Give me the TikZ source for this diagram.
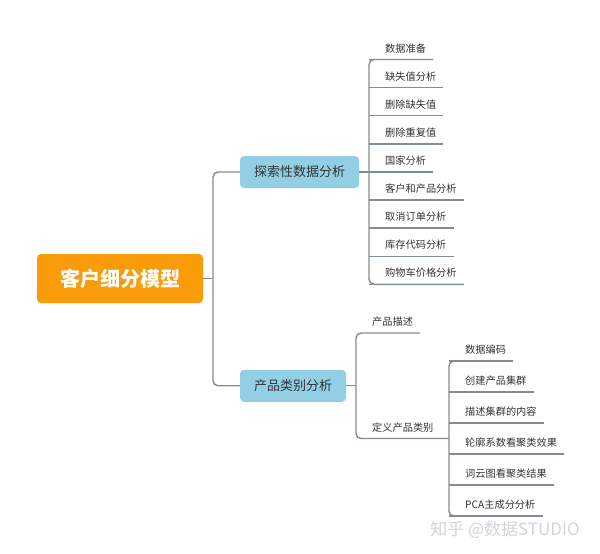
\documentclass[tikz,border=0pt]{standalone}
\usepackage{fontspec}
\setmainfont{Noto Sans CJK SC}
\usetikzlibrary{calc}
\definecolor{rootc}{RGB}{250,155,10}
\definecolor{boxc}{RGB}{146,206,228}
\definecolor{linec}{RGB}{130,139,152}
\definecolor{txtc}{RGB}{51,51,51}
\definecolor{wmc}{RGB}{212,212,212}
\tikzset{
  rootbox/.style={fill=rootc, rounded corners=4pt, text=white, font=\fontsize{20}{24}\selectfont\bfseries, minimum width=166pt, minimum height=49pt, inner sep=0pt},
  subbox/.style={fill=boxc, rounded corners=4pt, text=txtc, font=\fontsize{13}{16}\selectfont, minimum height=32pt, inner sep=0pt},
  leaf/.style={anchor=base west, inner sep=0pt, text=txtc, font=\fontsize{10.2}{12}\selectfont},
  conn/.style={draw=linec, line width=1.4pt, rounded corners=5pt},
  wmark/.style={text=wmc, font=\fontsize{17}{20}\selectfont, inner sep=0pt},
}
\begin{document}
\begin{tikzpicture}[x=1pt,y=-1pt]
\useasboundingbox (0,0) rectangle (600,554);
% root and first-level topics
\node[rootbox] (r) at (120,278.5) {客户细分模型};
\node[subbox, minimum width=119pt] (n1) at (299.5,172) {探索性数据分析};
\node[subbox, minimum width=106pt] (n2) at (293,385.75) {产品类别分析};
\coordinate (t0) at (213,278.5);
\draw[conn] (r.east) -- (t0);
\draw[conn] (t0) |- (n1.west);
\draw[conn] (t0) |- (n2.west);
% group 1
\coordinate (t1) at (369,172);
\draw[conn] (n1.east) -- (t1);
\foreach \t [count=\i from 0] in {数据准备,缺失值分析,删除缺失值,删除重复值,国家分析,客户和产品分析,取消订单分析,库存代码分析,购物车价格分析} {
  \node[leaf] (a\i) at (385,{52+28.1*\i}) {\t};
  \coordinate (u\i) at ($(a\i.base east)+(7,7.5)$);
  \draw[conn] (u\i -| t1) -- (u\i);
}
\draw[conn] (u0) -| (t1) |- (u8);
% group 2
\coordinate (t2) at (356,385.75);
\coordinate (t3) at (449,438.5);
\draw[conn] (n2.east) -- (t2);
\node[leaf] (p0) at (372,325.5) {产品描述};
\node[leaf] (p1) at (372,431) {定义产品类别};
\coordinate (pu0) at ($(p0.base east)+(7,7.5)$);
\draw[conn] (pu0) -| (t2) |- (t3);
% group 3
\foreach \t [count=\i from 0] in {数据编码,创建产品集群,描述集群的内容,轮廓系数看聚类效果,词云图看聚类结果,PCA主成分分析} {
  \node[leaf] (b\i) at (465,{353.5+31*\i}) {\t};
  \coordinate (v\i) at ($(b\i.base east)+(7,7.5)$);
  \draw[conn] (v\i -| t3) -- (v\i);
}
\draw[conn] (v0) -| (t3) |- (v5);
% watermark
\node[wmark] (w) at (505,530) {知乎 @数据STUDIO};
\end{tikzpicture}
\end{document}
